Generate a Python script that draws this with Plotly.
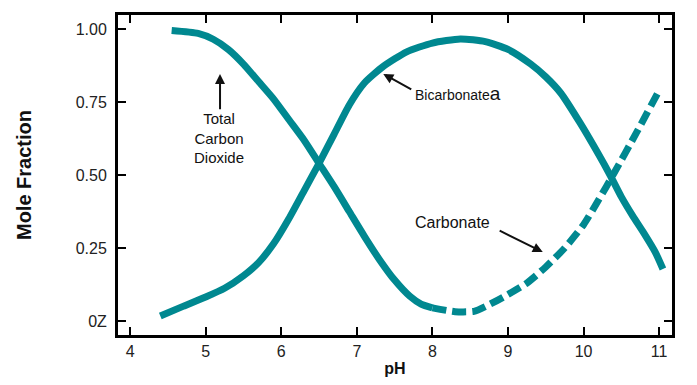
import plotly.graph_objects as go

# Data
total_co2_ph = [4.55, 4.9, 5.1, 5.3, 5.5, 5.7, 5.9, 6.1, 6.3, 6.5, 6.7, 6.9, 7.1, 7.3, 7.5, 7.7, 7.85, 8.0]
total_co2_frac = [0.995, 0.985, 0.965, 0.93, 0.88, 0.82, 0.76, 0.69, 0.62, 0.54, 0.46, 0.375, 0.29, 0.21, 0.14, 0.085, 0.058, 0.045]

carbonate_ph = [8.0, 8.3, 8.55, 8.72, 8.94, 9.25, 9.5, 9.75, 10.0, 10.2, 10.4, 10.7, 10.99]
carbonate_frac = [0.045, 0.032, 0.033, 0.052, 0.082, 0.13, 0.185, 0.25, 0.33, 0.415, 0.505, 0.645, 0.785]

bicarbonate_ph = [4.4, 4.7, 5.0, 5.25, 5.5, 5.7, 5.9, 6.1, 6.3, 6.5, 6.7, 6.9, 7.1, 7.35, 7.66, 8.0, 8.37, 8.7,
                  9.0, 9.3, 9.5, 9.7, 9.95, 10.2, 10.35, 10.5, 10.65, 10.8, 10.95, 11.05]
bicarbonate_frac = [0.017, 0.05, 0.082, 0.112, 0.155, 0.2, 0.265, 0.35, 0.445, 0.54, 0.64, 0.74, 0.815, 0.872, 0.922, 0.952, 0.966, 0.957,
                    0.93, 0.88, 0.836, 0.78, 0.68, 0.57, 0.5, 0.425, 0.36, 0.3, 0.235, 0.178]

x_ticks = [4, 5, 6, 7, 8, 9, 10, 11]
y_tickvals = [0, 0.25, 0.5, 0.75, 1.0]
y_ticktext = ["0Z", "0.25", "0.50", "0.75", "1.00"]

TEAL = "#008890"
FONT = "Liberation Sans, Arial, sans-serif"

fig = go.Figure()
fig.add_trace(go.Scatter(x=total_co2_ph, y=total_co2_frac, mode="lines",
                         line=dict(color=TEAL, width=7, shape="spline", smoothing=0.6),
                         showlegend=False, hoverinfo="skip"))
fig.add_trace(go.Scatter(x=carbonate_ph, y=carbonate_frac, mode="lines",
                         line=dict(color=TEAL, width=7, shape="spline", smoothing=0.6, dash="14px,6px"),
                         showlegend=False, hoverinfo="skip"))
fig.add_trace(go.Scatter(x=bicarbonate_ph, y=bicarbonate_frac, mode="lines",
                         line=dict(color=TEAL, width=7, shape="spline", smoothing=0.6),
                         showlegend=False, hoverinfo="skip"))

# Annotations
fig.add_annotation(x=5.18, y=0.627, text="Total<br>Carbon<br>Dioxide", showarrow=False,
                   font=dict(family=FONT, size=15, color="#111"), align="center")
fig.add_annotation(x=5.19, y=0.846, ax=5.19, ay=0.72, xref="x", yref="y", axref="x", ayref="y",
                   text="", showarrow=True, arrowhead=2, arrowsize=1, arrowwidth=2, arrowcolor="#111")

fig.add_annotation(x=7.74, y=0.778, text="Bicarbonate<span style='font-size:19px'>a</span>", showarrow=False,
                   xanchor="left", font=dict(family=FONT, size=14, color="#111"))
fig.add_annotation(x=7.35, y=0.846, ax=7.74, ay=0.79, xref="x", yref="y", axref="x", ayref="y",
                   text="", showarrow=True, arrowhead=2, arrowsize=1, arrowwidth=2, arrowcolor="#111")

fig.add_annotation(x=8.26, y=0.336, text="Carbonate", showarrow=False,
                   font=dict(family=FONT, size=16, color="#111"))
fig.add_annotation(x=9.46, y=0.236, ax=8.87, ay=0.312, xref="x", yref="y", axref="x", ayref="y",
                   text="", showarrow=True, arrowhead=2, arrowsize=1, arrowwidth=2, arrowcolor="#111")

axis_common = dict(showline=True, linecolor="black", linewidth=3, mirror="ticks",
                   ticks="inside", ticklen=8, tickwidth=2, tickcolor="black",
                   showgrid=False, zeroline=False, automargin=False,
                   tickfont=dict(family=FONT, size=16, color="#222"))

fig.update_xaxes(range=[3.84, 11.17], tickvals=x_ticks,
                 title=dict(text="<b>pH</b>", font=dict(family=FONT, size=16, color="#111"), standoff=8),
                 **axis_common)
fig.update_yaxes(range=[-0.048, 1.048], tickvals=y_tickvals, ticktext=y_ticktext,
                 ticklabelstandoff=5,
                 title=dict(text="<b>Mole Fraction</b>", font=dict(family=FONT, size=20, color="#111"), standoff=39),
                 **axis_common)

# page body has an 8px default margin; size the figure to fit inside it
fig.update_layout(width=681, height=369, margin=dict(l=110, r=17, t=7, b=42),
                  plot_bgcolor="white", paper_bgcolor="white")

fig.write_html("out.html")
